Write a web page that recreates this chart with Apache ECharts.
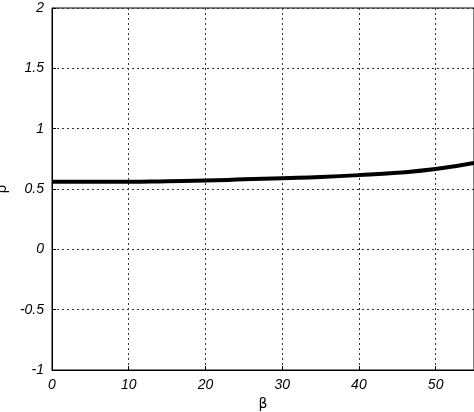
<!DOCTYPE html><html><head><meta charset="utf-8"><script src="https://cdn.jsdelivr.net/npm/echarts@6/dist/echarts.min.js"></script>
<style>html,body{margin:0;padding:0;background:#fff}</style></head><body><div id="c" style="width:474px;height:412px"></div><script>
const betaVals=[0,5,10,15,20,25,30,35,40,45,50,55];
const rhoVals=[0.56,0.56,0.56,0.565,0.57,0.58,0.59,0.60,0.615,0.635,0.665,0.715];
const xTicks=[0,10,20,30,40,50];
const yTicks=[-1,-0.5,0,0.5,1,1.5,2];
const ch=echarts.init(document.getElementById('c'));
ch.setOption({animation:false,
grid:{left:52,right:0,top:8,bottom:42,show:true,borderColor:'#000',borderWidth:1,containLabel:false,outerBoundsMode:'none'},
xAxis:{type:'value',min:0,max:55,interval:10,name:'β',nameLocation:'middle',nameGap:24,nameTextStyle:{fontFamily:'DejaVu Sans',fontSize:14,color:'#000'},
axisLine:{onZero:false,lineStyle:{color:'#000'}},axisTick:{inside:true,length:4,lineStyle:{color:'#000'}},
axisLabel:{fontStyle:'italic',fontFamily:'Liberation Sans',fontSize:14,color:'#000',margin:8,showMaxLabel:false},
splitLine:{lineStyle:{type:[2,3],color:'#333'}}},
yAxis:{type:'value',min:-1,max:2,interval:0.5,name:'ρ',nameLocation:'middle',nameGap:34,nameTextStyle:{fontFamily:'DejaVu Sans',fontSize:14,color:'#000'},
axisLine:{onZero:false,lineStyle:{color:'#000'}},axisTick:{inside:true,length:4,lineStyle:{color:'#000'}},
axisLabel:{fontStyle:'italic',fontFamily:'Liberation Sans',fontSize:14,color:'#000',margin:8},
splitLine:{lineStyle:{type:[2,3],color:'#333'}}},
series:[{type:'line',data:betaVals.map((b,i)=>[b,rhoVals[i]]),smooth:true,showSymbol:false,lineStyle:{color:'#000',width:4}}]});
</script></body></html>
